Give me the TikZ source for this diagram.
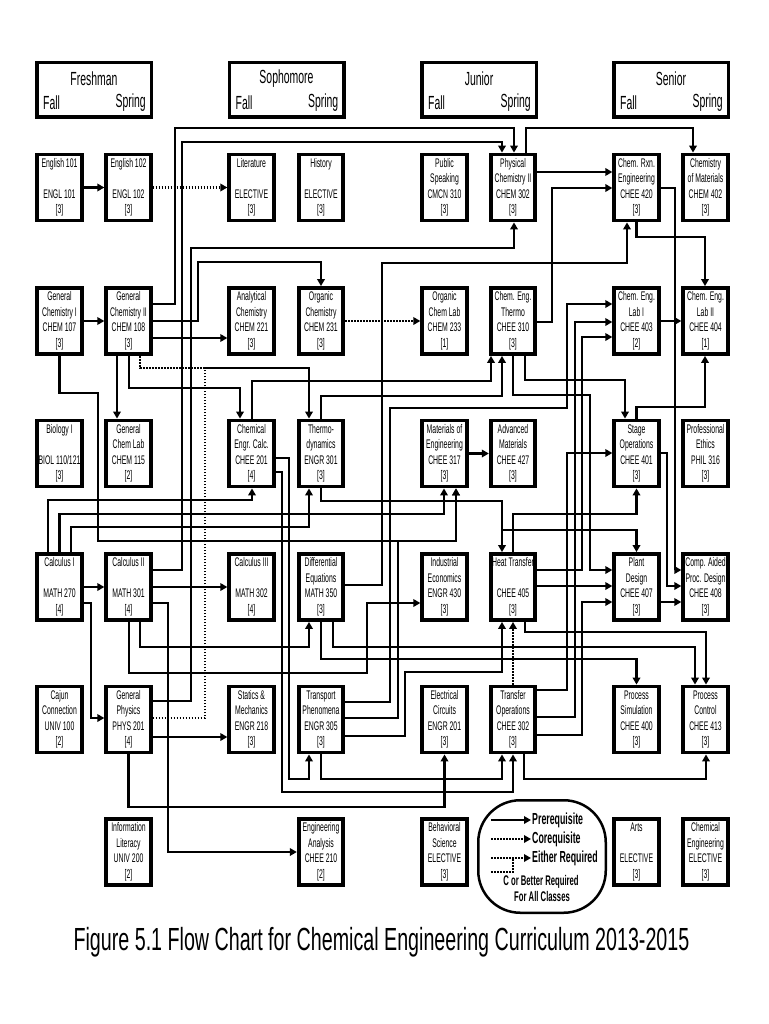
\documentclass[tikz,border=0pt]{standalone}
\usepackage{fontspec}
\setmainfont{Liberation Sans}[FakeStretch=0.55]
\newfontfamily\capfont{Liberation Sans}[FakeStretch=0.615]
\usetikzlibrary{arrows.meta,calc}
\newcommand{\cbt}[4]{\mbox{}#1\\\mbox{}#2\\\mbox{}#3\\\mbox{}[#4]}
\begin{document}
\begin{tikzpicture}[x=1pt,y=-1pt,
  cbox/.style={draw, line width=3.8pt, minimum width=44.5pt, minimum height=66pt, inner sep=0pt, align=center, font=\fontsize{12.5}{15.5}\selectfont},
  hbox/.style={draw, line width=3.5pt, minimum width=114.5pt, minimum height=54.5pt, inner sep=0pt},
  htext/.style={inner sep=0pt, font=\fontsize{19}{19}\selectfont},
  ltext/.style={inner sep=0pt, font=\bfseries\fontsize{16}{16}\selectfont},
  lsmall/.style={inner sep=0pt, font=\bfseries\fontsize{14}{14}\selectfont},
  con/.style={line width=2.1pt},
  pre/.style={con, -{Triangle[length=7pt,width=7.5pt]}},
  cor/.style={con, dash pattern=on 1.6pt off 1.4pt, -{Triangle[length=7pt,width=7.5pt]}},
  dot/.style={con, dash pattern=on 1.6pt off 1.4pt},
]
\fill[white] (0,0) rectangle (768,1024);
\useasboundingbox (0,0) rectangle (768,1024);

% headers
\node[hbox] (HFr) at (94,90) {};
\node[htext] (HFrT) at (94,79) {Freshman};
\node[htext, anchor=west] (HFrF) at (43,103) {Fall};
\node[htext, anchor=east] (HFrS) at (146,103) {Spring};
\node[hbox] (HSo) at (286.5,90) {};
\node[htext] (HSoT) at (286.5,79) {Sophomore};
\node[htext, anchor=west] (HSoF) at (235.5,103) {Fall};
\node[htext, anchor=east] (HSoS) at (338.5,103) {Spring};
\node[hbox] (HJu) at (479,90) {};
\node[htext] (HJuT) at (479,79) {Junior};
\node[htext, anchor=west] (HJuF) at (428,103) {Fall};
\node[htext, anchor=east] (HJuS) at (531,103) {Spring};
\node[hbox] (HSe) at (671,90) {};
\node[htext] (HSeT) at (671,79) {Senior};
\node[htext, anchor=west] (HSeF) at (620,103) {Fall};
\node[htext, anchor=east] (HSeS) at (723,103) {Spring};

% row 1
\node[cbox] (E101) at (59.5,187.5) {\cbt{English 101}{}{ENGL 101}{3}};
\node[cbox] (E102) at (128.5,187.5) {\cbt{English 102}{}{ENGL 102}{3}};
\node[cbox] (Lit) at (251.5,187.5) {\cbt{Literature}{}{ELECTIVE}{3}};
\node[cbox] (Hist) at (321,187.5) {\cbt{History}{}{ELECTIVE}{3}};
\node[cbox] (PubSp) at (444.5,187.5) {\cbt{Public}{Speaking}{CMCN 310}{3}};
\node[cbox] (PChem2) at (513,187.5) {\cbt{Physical}{Chemistry II}{CHEM 302}{3}};
\node[cbox] (ChemRxn) at (636.5,187.5) {\cbt{Chem. Rxn.}{Engineering}{CHEE 420}{3}};
\node[cbox] (ChemMat) at (705.5,187.5) {\cbt{Chemistry}{of Materials}{CHEM 402}{3}};
% row 2
\node[cbox] (GC1) at (59.5,321) {\cbt{General}{Chemistry I}{CHEM 107}{3}};
\node[cbox] (GC2) at (128.5,321) {\cbt{General}{Chemistry II}{CHEM 108}{3}};
\node[cbox] (Anal) at (251.5,321) {\cbt{Analytical}{Chemistry}{CHEM 221}{3}};
\node[cbox] (OChem) at (321,321) {\cbt{Organic}{Chemistry}{CHEM 231}{3}};
\node[cbox] (OLab) at (444.5,321) {\cbt{Organic}{Chem Lab}{CHEM 233}{1}};
\node[cbox] (Th310) at (513,321) {\cbt{Chem. Eng.}{Thermo}{CHEE 310}{3}};
\node[cbox] (Lab1) at (636.5,321) {\cbt{Chem. Eng.}{Lab I}{CHEE 403}{2}};
\node[cbox] (Lab2) at (705.5,321) {\cbt{Chem. Eng.}{Lab II}{CHEE 404}{1}};
% row 3
\node[cbox] (Bio) at (59.5,453.5) {\cbt{Biology I}{}{BIOL 110/121}{3}};
\node[cbox] (GCLab) at (128.5,453.5) {\cbt{General}{Chem Lab}{CHEM 115}{2}};
\node[cbox] (CEC) at (251.5,453.5) {\cbt{Chemical}{Engr. Calc.}{CHEE 201}{4}};
\node[cbox] (Th301) at (321,453.5) {\cbt{Thermo-}{dynamics}{ENGR 301}{3}};
\node[cbox] (MatEng) at (444.5,453.5) {\cbt{Materials of}{Engineering}{CHEE 317}{3}};
\node[cbox] (AdvMat) at (513,453.5) {\cbt{Advanced}{Materials}{CHEE 427}{3}};
\node[cbox] (Stage) at (636.5,453.5) {\cbt{Stage}{Operations}{CHEE 401}{3}};
\node[cbox] (Ethics) at (705.5,453.5) {\cbt{Professional}{Ethics}{PHIL 316}{3}};
% row 4
\node[cbox] (Calc1) at (59.5,587) {\cbt{Calculus I}{}{MATH 270}{4}};
\node[cbox] (Calc2) at (128.5,587) {\cbt{Calculus II}{}{MATH 301}{4}};
\node[cbox] (Calc3) at (251.5,587) {\cbt{Calculus III}{}{MATH 302}{4}};
\node[cbox] (DiffEq) at (321,587) {\cbt{Differential}{Equations}{MATH 350}{3}};
\node[cbox] (IndEcon) at (444.5,587) {\cbt{Industrial}{Economics}{ENGR 430}{3}};
\node[cbox] (HeatTr) at (513,587) {\cbt{Heat Transfer}{}{CHEE 405}{3}};
\node[cbox] (Plant) at (636.5,587) {\cbt{Plant}{Design}{CHEE 407}{3}};
\node[cbox] (CAPD) at (705.5,587) {\cbt{Comp. Aided}{Proc. Design}{CHEE 408}{3}};
% row 5
\node[cbox] (Cajun) at (59.5,719.5) {\cbt{Cajun}{Connection}{UNIV 100}{2}};
\node[cbox] (Phys) at (128.5,719.5) {\cbt{General}{Physics}{PHYS 201}{4}};
\node[cbox] (Statics) at (251.5,719.5) {\cbt{Statics \&}{Mechanics}{ENGR 218}{3}};
\node[cbox] (Transport) at (321,719.5) {\cbt{Transport}{Phenomena}{ENGR 305}{3}};
\node[cbox] (Elec) at (444.5,719.5) {\cbt{Electrical}{Circuits}{ENGR 201}{3}};
\node[cbox] (TrOps) at (513,719.5) {\cbt{Transfer}{Operations}{CHEE 302}{3}};
\node[cbox] (ProcSim) at (636.5,719.5) {\cbt{Process}{Simulation}{CHEE 400}{3}};
\node[cbox] (ProcCtrl) at (705.5,719.5) {\cbt{Process}{Control}{CHEE 413}{3}};
% row 6
\node[cbox] (InfoLit) at (128.5,852) {\cbt{Information}{Literacy}{UNIV 200}{2}};
\node[cbox] (EngAnal) at (321,852) {\cbt{Engineering}{Analysis}{CHEE 210}{2}};
\node[cbox] (Behav) at (444.5,852) {\cbt{Behavioral}{Science}{ELECTIVE}{3}};
\node[cbox] (Arts) at (636.5,852) {\cbt{Arts}{}{ELECTIVE}{3}};
\node[cbox] (ChEElec) at (705.5,852) {\cbt{Chemical}{Engineering}{ELECTIVE}{3}};

% straight connectors
\draw[pre] (E101) -- (E102);
\draw[cor] (E102) -- (Lit);
\draw[pre] (GC1) -- (GC2);
\draw[pre] (GC2.east |- 0,338) -- (Anal.west |- 0,338);
\draw[cor] (OChem) -- (OLab);
\draw[pre] (Lab1) -- (Lab2);
\draw[pre] (MatEng) -- (AdvMat);
\draw[pre] (Calc1) -- (Calc2);
\draw[pre] (Calc2) -- (Calc3);
\draw[pre] (Plant.east |- 0,602) -- (CAPD.west |- 0,602);
\draw[pre] (Phys.east |- 0,737) -- (Statics.west |- 0,737);
\draw[pre] (PChem2.east |- 0,172) -- (ChemRxn.west |- 0,172);

% routed connectors
\draw[pre] (Th310.east |- 0,322) -| (552,188) -- (ChemRxn.west |- 0,188);
\draw[pre] (GC2.east |- 0,304) -| (175,128) -| (PChem2.north -| 514,0);
\draw[pre] (Calc2.east |- 0,570) -| (182,142) -| (PChem2.north -| 502,0);
\draw[pre] (Phys.east |- 0,701) -| (191,248) -| (PChem2.south -| 514,0);
\draw[pre] (GC2.east |- 0,321) -| (198,262) -| (OChem.north);
\draw[pre] (PChem2.north -| 526,0) |- (693,128) -- (ChemMat.north -| 693,0);
\draw[pre] (GC1.south) |- (98,393) |- (456,541) -- (MatEng.south -| 456,0);
\draw[pre] (GC2.south -| 117,0) -- (GCLab.north -| 117,0);
\draw[pre] (GC2.south -| 129,0) |- (240,388) -- (CEC.north -| 240,0);
\draw[dot] (GC2.south -| 140,0) |- (205,368);
\draw[dot] (Phys.east |- 0,718) -| (205,368);
\draw[pre] (205,368) -| (Th301.north -| 309,0);
\draw[pre] (CEC.north -| 252,0) |- (491,381) -- (Th310.south -| 491,0);
\draw[pre] (Th301.north) |- (502,396) -- (Th310.south -| 502,0);
\draw[pre] (Calc1.north -| 48,0) |- (252,500) -- (CEC.south -| 252,0);
\draw[pre] (Calc1.north -| 59.5,0) |- (444,514) -- (MatEng.south -| 444,0);
\draw[pre] (Calc1.north -| 71,0) |- (309,527) -- (Th301.south -| 309,0);
\draw[pre] (Th301.south) |- (502,501) -- (HeatTr.north -| 502,0);
\draw[pre] (Th301.south) |- (502,501) |- (636.5,530) -- (Plant.north);
\draw[pre] (HeatTr.north -| 513,0) |- (636.5,514) -- (Stage.south);
\draw[pre] (Th310.south -| 525,0) |- (625,380) -- (Stage.north -| 625,0);
\draw[pre] (Th310.south -| 513,0) |- (590,395) |- (Plant.west |- 0,570);
\draw[pre] (Transport.east |- 0,702) -| (390,408) -| (567,304) -- (Lab1.west |- 0,304);
\draw[pre] (TrOps.east |- 0,717) -| (575,322) -- (Lab1.west |- 0,322);
\draw[pre] (HeatTr.east |- 0,570) -| (582,337) -- (Lab1.west |- 0,337);
\draw[pre] (TrOps.east |- 0,690) -| (567,453) -- (Stage.west |- 0,453);
\draw[pre] (TrOps.east |- 0,735) -| (582,602) -- (Plant.west |- 0,602);
\draw[pre] (HeatTr.east |- 0,586) -- (Plant.west |- 0,586);
\draw[pre] (Stage.north) |- (705,407) -- (Lab2.south -| 705,0);
\draw[pre] (ChemRxn.south) |- (705,237) -- (Lab2.north -| 705,0);
\draw[pre] (ChemRxn.east |- 0,188) -| (675,570) -- (CAPD.west |- 0,570);
\draw[pre] (Stage.east |- 0,453) -| (667,586) -- (CAPD.west |- 0,586);
\draw[pre] (DiffEq.east |- 0,585) -| (382,263) -| (ChemRxn.south -| 627,0);
\draw[pre] (Calc2.south -| 140,0) |- (309,647) -- (DiffEq.south -| 309,0);
\draw[pre] (Calc2.south -| 129,0) |- (367,673) |- (IndEcon.west |- 0,603);
\draw[pre] (DiffEq.south) |- (636.5,659) -- (ProcSim.north);
\draw[pre] (DiffEq.south -| 333,0) |- (695,647) -- (ProcCtrl.north -| 695,0);
\draw[pre] (HeatTr.south -| 525,0) |- (706,632) -- (ProcCtrl.north -| 706,0);
\draw[pre] (Transport.east |- 0,736) -| (405,672) -| (HeatTr.south -| 502,0);
\draw[pre] (Transport.east |- 0,718) -| (398,541) -| (MatEng.south -| 456,0);
\draw[cor] (TrOps.north -| 513,0) -- (HeatTr.south -| 513,0);
\draw[pre] (Transport.south) |- (502,779) -- (TrOps.south -| 502,0);
\draw[pre] (TrOps.south -| 524,0) |- (706,779) -- (ProcCtrl.south -| 706,0);
\draw[pre] (CEC.east |- 0,458) -| (289,779) -| (Transport.south -| 309,0);
\draw[pre] (CEC.east |- 0,472) -| (282,792) -| (TrOps.south -| 513,0);
\draw[pre] (Calc1.east |- 0,603) -| (91,718) -- (Phys.west |- 0,718);
\draw[pre] (Calc2.east |- 0,603) -| (168,852) -- (EngAnal.west |- 0,852);
\draw[pre] (Phys.south) |- (444.5,807) -- (Elec.south);

% legend
\node[draw, line width=2.5pt, rounded corners=42pt, minimum width=127.5pt, minimum height=112.5pt] (legend) at (542,856.5) {};
\coordinate (lp0) at (491,820); \coordinate (lp1) at (531,820);
\draw[pre] (lp0) -- (lp1);
\node[ltext, anchor=west] (lpt) at (532,820) {Prerequisite};
\coordinate (lc0) at (491,839); \coordinate (lc1) at (531,839);
\draw[cor] (lc0) -- (lc1);
\node[ltext, anchor=west] (lct) at (532,839) {Corequisite};
\coordinate (le0) at (491,858); \coordinate (le1) at (531,858);
\coordinate (le2) at (491,872); \coordinate (le3) at (513,872); \coordinate (le4) at (513,858);
\draw[cor] (le0) -- (le1);
\draw[dot] (le2) -- (le3) -- (le4);
\node[ltext, anchor=west] (let) at (532,858) {Either Required};
\node[lsmall] (lbt1) at (541,882) {C or Better Required};
\node[lsmall] (lbt2) at (542,896) {For All Classes};

% caption
\node[inner sep=0pt, font=\capfont\fontsize{32}{36}\selectfont] (cap) at (381.5,942) {Figure 5.1 Flow Chart for Chemical Engineering Curriculum 2013-2015};
\end{tikzpicture}
\end{document}
